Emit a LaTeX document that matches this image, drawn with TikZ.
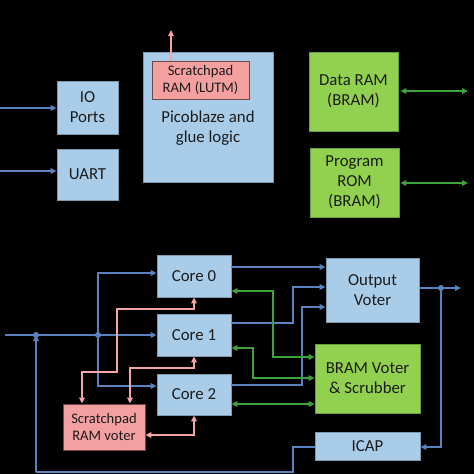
\documentclass[tikz,border=0pt]{standalone}
\usepackage{fontspec}
\setmainfont{Carlito}
\usetikzlibrary{arrows.meta}
\definecolor{bfill}{HTML}{A9CCE8}
\definecolor{bline}{HTML}{5A82C0}
\definecolor{pfill}{HTML}{F4A0A0}
\definecolor{pline}{HTML}{F4A4A4}
\definecolor{gfill}{HTML}{92D050}
\definecolor{gline}{HTML}{3DA33D}
\definecolor{txt}{HTML}{1C1C1C}
\tikzset{
  box/.style={draw=#1!75!black, line width=0.8pt, inner sep=0pt, align=center, text=txt,
     font=\fontsize{16.8}{20}\selectfont},
  bluebox/.style={box=bfill, fill=bfill},
  greenbox/.style={box=gfill, fill=gfill},
  pinkbox/.style={draw=pfill!45!black, line width=0.8pt, fill=pfill, inner sep=0pt, align=center, text=txt,
     font=\fontsize{14.6}{17.5}\selectfont},
  tip/.tip={Triangle[length=6pt,width=5.5pt]},
  bcon/.style={draw=bline, line width=1.7pt, -tip},
  gcon/.style={draw=gline, line width=1.7pt, tip-tip},
  pcon/.style={draw=pline, line width=1.7pt, tip-tip},
  pcup/.style={draw=pline, line width=1.7pt, -tip},
  dot/.style={circle, fill=bline, inner sep=0pt, minimum size=6pt},
}
\begin{document}
\begin{tikzpicture}[x=1pt,y=-1pt]
\fill[black] (0,0) rectangle (474,474);
\useasboundingbox (0,0) rectangle (474,474);
% top section
\node[bluebox, minimum width=61pt, minimum height=53pt] (io) at (87.5,107.5) {IO\\Ports};
\node[bluebox, minimum width=61pt, minimum height=51pt] (uart) at (87.5,174.5) {UART};
\node[bluebox, minimum width=130pt, minimum height=130pt] (pico) at (208,117) {};
\node[align=center, text=txt, font=\fontsize{16.8}{20}\selectfont] (picotxt) at (208,128) {Picoblaze and\\glue logic};
\node[pinkbox, minimum width=97pt, minimum height=38pt] (spad) at (200.5,80) {Scratchpad\\RAM (LUTM)};
\node[greenbox, minimum width=89pt, minimum height=79pt] (dram) at (353.5,91.5) {Data RAM\\(BRAM)};
\node[greenbox, minimum width=89pt, minimum height=69pt] (prom) at (354.5,182.5) {Program\\ROM\\(BRAM)};
\coordinate (ioin) at (0,108);
\coordinate (uartin) at (0,171);
\coordinate (spadout) at (171,30);
\coordinate (dramout) at (468,91);
\coordinate (promout) at (468,183);
\draw[bcon] (ioin) -- (io.west|-ioin);
\draw[bcon] (uartin) -- (uart.west|-uartin);
\draw[pcup] (spad.north-|spadout) -- (spadout);
\draw[gcon] ([xshift=2pt]dram.east|-dramout) -- (dramout);
\draw[gcon] ([xshift=1pt]prom.east|-promout) -- (promout);
% bottom section
\node[bluebox, minimum width=74pt, minimum height=42pt] (core0) at (194,276) {Core 0};
\node[bluebox, minimum width=74pt, minimum height=42pt] (core1) at (194,335) {Core 1};
\node[bluebox, minimum width=74pt, minimum height=41pt] (core2) at (194,394.5) {Core 2};
\node[pinkbox, minimum width=82pt, minimum height=46pt] (spv) at (104,427) {Scratchpad\\RAM voter};
\node[bluebox, minimum width=93pt, minimum height=64pt] (ov) at (372.5,290) {Output\\Voter};
\node[greenbox, minimum width=105pt, minimum height=69pt] (bram) at (367.5,378.5) {BRAM Voter\\\& Scrubber};
\node[bluebox, minimum width=105pt, minimum height=28pt] (icap) at (367.5,446) {ICAP};
% input bus
\coordinate (inp) at (5,335);
\node[dot] (j1) at (36,335) {};
\node[dot] (j2) at (98,335) {};
\draw[bcon] (inp) -- (core1.west);
\draw[bcon] (j2.center) |- (core0.west|-{(0,273)});
\draw[bcon] (j2.center) |- (core2.west|-{(0,386)});
% ICAP feedback
\coordinate (fb1) at (293,447);
\coordinate (fb2) at (293,472);
\coordinate (fb3) at (36,472);
\draw[draw=bline, line width=1.7pt] (icap.west|-fb1) -- (fb1) -- (fb2) -- (fb3);
\draw[bcon] (fb3) -- ([yshift=3pt]j1.south);
% output
\coordinate (outp) at (461,288);
\node[dot] (j3) at (441,288) {};
\draw[bcon] (ov.east|-outp) -- (outp);
\draw[bcon] (j3.center) |- (icap.east|-{(0,447)});
% cores to output voter
\draw[bcon] (core0.east|-{(0,267)}) -- (ov.west|-{(0,267)});
\draw[bcon] (core1.east|-{(0,323)}) -| (293,287) -- (ov.west|-{(0,287)});
\draw[bcon] (core2.east|-{(0,385)}) -| (302,307) -- (ov.west|-{(0,307)});
% cores to BRAM voter (green)
\draw[gcon] (core0.east|-{(0,291)}) -| (273,357) -- (bram.west|-{(0,357)});
\draw[gcon] (core1.east|-{(0,348)}) -| (253,378) -- (bram.west|-{(0,378)});
\draw[gcon] (core2.east|-{(0,404)}) -- (bram.west|-{(0,404)});
% scratchpad voter (pink)
\draw[pcon] (core0.south) -- (194,309) -| (117,372) -| (spv.north-|{(82,0)});
\draw[pcon] (core1.south) -- (194,368) -| (spv.north-|{(130,0)});
\draw[pcon] (core2.south) |- (spv.east|-{(0,435)});
\end{tikzpicture}
\end{document}
